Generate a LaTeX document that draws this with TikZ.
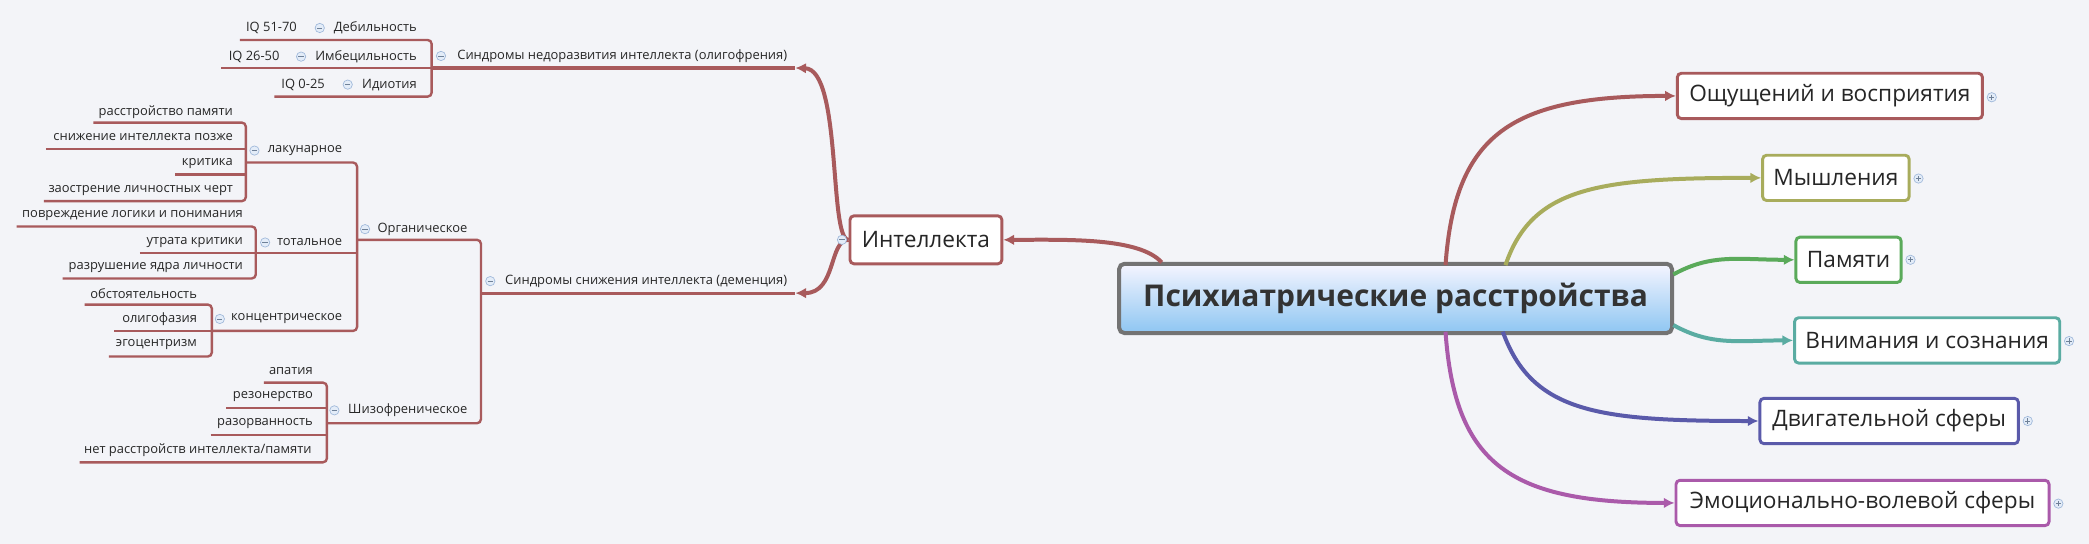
\documentclass[tikz,border=0pt]{standalone}
\usepackage{fontspec}
\setmainfont{Open Sans}
\usetikzlibrary{arrows.meta}
\definecolor{bg}{HTML}{F3F4F8}
\definecolor{cr}{HTML}{A85A5C}
\definecolor{col}{HTML}{A8AC5C}
\definecolor{cg}{HTML}{5AAA5A}
\definecolor{ct}{HTML}{5AACA2}
\definecolor{cb}{HTML}{5A5AAA}
\definecolor{cp}{HTML}{AA5AAA}
\definecolor{ic}{HTML}{9FB8DA}
\definecolor{icf}{HTML}{E3ECF8}
\tikzset{
 lt/.style={font=\fontsize{9.7}{10}\selectfont, inner sep=0pt, anchor=east, text=black!85},
 br/.style={draw=cr, line width=1.8pt, rounded corners=3pt},
 mbr/.style={draw=cr, line width=2.4pt},
 rnode/.style={draw=#1, line width=2.2pt, fill=white, rounded corners=3pt, font=\fontsize{17}{20}\selectfont, text=black!85, minimum height=34pt, inner sep=0pt},
 conn/.style={draw=#1, line width=3pt, -{Latex[length=8pt,width=8pt]}},
}
\newcommand{\mi}[2]{\draw[ic, fill=icf, line width=0.5pt] (#1,#2) circle (3.5pt); \draw[ic!70!black, line width=0.6pt] (#1-2,#2) -- (#1+2,#2);}
\newcommand{\pl}[2]{\draw[ic, fill=icf, line width=0.5pt] (#1,#2) circle (3.5pt); \draw[ic!70!black, line width=0.6pt] (#1-2,#2) -- (#1+2,#2) (#1,#2-2) -- (#1,#2+2);}
\begin{document}
\begin{tikzpicture}[x=1pt,y=-1pt]
\fill[bg] (0,0) rectangle (1568,408);
\useasboundingbox (0,0) rectangle (1568,408);
% central
\node[draw=black!55, line width=3pt, rounded corners=4pt, top color=blue!4!white, bottom color={rgb,255:red,142;green,198;blue,242}, minimum width=415pt, minimum height=52pt, font=\fontsize{22.5}{26}\bfseries\selectfont, text=black!80] (c) at (1047.5,224) {Психиатрические расстройства};
% right nodes
\node[rnode=cr, minimum width=229pt] (n1) at (1373.5,72) {Ощущений и восприятия};
\node[rnode=col, minimum width=110pt] (n2) at (1378,133.5) {Мышления};
\node[rnode=cg, minimum width=79pt] (n3) at (1387.5,195) {Памяти};
\node[rnode=ct, minimum width=199pt] (n4) at (1446.5,255.5) {Внимания и сознания};
\node[rnode=cb, minimum width=194pt] (n5) at (1418,316) {Двигательной сферы};
\node[rnode=cp, minimum width=280pt] (n6) at (1398,377.5) {Эмоционально-волевой сферы};
\pl{1495}{73}\pl{1440}{134}\pl{1434}{195}\pl{1553}{256}\pl{1522}{316}\pl{1545}{378}
\coordinate (s1) at (1085,199); \coordinate (s2) at (1130,199); \coordinate (s3) at (1256,206);
\coordinate (s4) at (1256,244); \coordinate (s5) at (1128,249); \coordinate (s6) at (1085,249);
\draw[conn=cr] (s1) .. controls (1092,100) and (1135,72) .. (n1.west);
\draw[conn=col] (s2) .. controls (1150,140) and (1200,133.5) .. (n2.west);
\draw[conn=cg] (s3) .. controls (1285,190) and (1305,195) .. (n3.west);
\draw[conn=ct] (s4) .. controls (1285,260) and (1305,255.5) .. (n4.west);
\draw[conn=cb] (s5) .. controls (1150,310) and (1200,316) .. (n5.west);
\draw[conn=cp] (s6) .. controls (1092,350) and (1135,377.5) .. (n6.west);
% intellekt
\node[rnode=cr, minimum width=114pt, minimum height=36pt] (int) at (695,180) {Интеллекта};
\coordinate (s0) at (872,197);
\draw[conn=cr] (s0) .. controls (855,178) and (800,180) .. (int.east);
\coordinate (a1) at (597,51); \coordinate (a2) at (597,220);
\draw[conn=cr] (int.west) .. controls (622,180) and (632,52) .. (a1);
\draw[conn=cr] (int.west) .. controls (622,180) and (628,220) .. (a2);
\mi{632}{180}
% oligophrenia
\node[lt] (olig) at (591,42) {Синдромы недоразвития интеллекта (олигофрения)}; \mi{331}{42}
\draw[mbr] (324,51) -- (a1);
\node[lt] (deb) at (313,21) {Дебильность}; \mi{240}{21} \node[lt] (iq1) at (223,21) {IQ 51-70};
\node[lt] (imb) at (313,42.5) {Имбецильность}; \mi{226}{42.5} \node[lt] (iq2) at (210,42.5) {IQ 26-50};
\node[lt] (idi) at (313,63.5) {Идиотия}; \mi{261}{63.5} \node[lt] (iq3) at (244,63.5) {IQ 0-25};
\draw[br] (180,30) -| (324,72.5) -- (206,72.5);
\draw[br] (166,51) -- (324,51);
% dementia
\node[lt] (dem) at (591,211) {Синдромы снижения интеллекта (деменция)}; \mi{368}{211}
\draw[mbr] (361,220) -- (a2);
\node[lt] (org) at (351,172) {Органическое}; \mi{274}{172}
\node[lt] (shz) at (351,308) {Шизофреническое}; \mi{251}{308}
\draw[br] (268,180) -| (361,317.7) -- (245.4,317.7);
% lacunar
\node[lt] (lac) at (257,113) {лакунарное}; \mi{191}{113}
\node[lt] at (175,84) {расстройство памяти};
\node[lt] at (175,103) {снижение интеллекта позже};
\node[lt] at (175,123) {критика};
\node[lt] at (175,143) {заострение личностных черт};
\draw[br] (70,92) -| (184.5,151) -- (33,151);
\draw[br] (34.5,112) -- (184.5,112);
\draw[br] (131.5,131) -- (184.5,131);
\draw[br] (184.5,122) -| (268,248.4) -- (159,248.4);
% total
\node[lt] (tot) at (257,182) {тотальное}; \mi{199}{182}
\node[lt] at (182.5,162) {повреждение логики и понимания};
\node[lt] at (182.5,182) {утрата критики};
\node[lt] at (182.5,201) {разрушение ядра личности};
\draw[br] (12.5,170) -| (192,209) -- (47,209);
\draw[br] (105,190) -- (268,190);
% concentric
\node[lt] (con) at (257,239.4) {концентрическое}; \mi{165}{239.4}
\node[lt] at (148,220.6) {обстоятельность};
\node[lt] at (148,239.4) {олигофазия};
\node[lt] at (148,258.9) {эгоцентризм};
\draw[br] (63.6,228.6) -| (159,267.6) -- (81.7,267.6);
\draw[br] (85.6,248.4) -- (159,248.4);
% schizo
\node[lt] at (235,278.2) {апатия};
\node[lt] at (235,297.7) {резонерство};
\node[lt] at (235,317.7) {разорванность};
\node[lt] at (234,337.7) {нет расстройств интеллекта/памяти};
\draw[br] (198,287.2) -| (245.4,347) -- (59.7,347);
\draw[br] (170,306.4) -- (245.4,306.4);
\draw[br] (158,326.4) -- (245.4,326.4);
\end{tikzpicture}
\end{document}
